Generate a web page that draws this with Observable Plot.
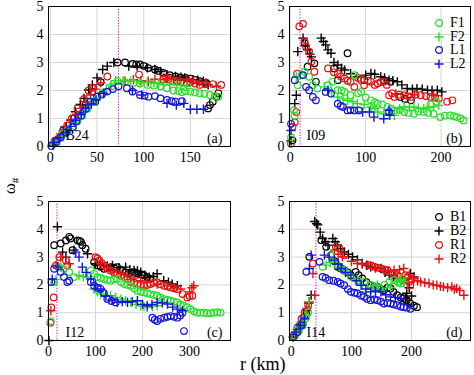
<!DOCTYPE html>
<html><head><meta charset="utf-8">
<script src="https://cdn.jsdelivr.net/npm/d3@7"></script>
<script src="https://cdn.jsdelivr.net/npm/@observablehq/plot@0.6"></script>
<style>
body{margin:0;background:#fff;}
#c{position:relative;width:474px;height:375px;font-family:"Liberation Serif",serif;color:#000;overflow:hidden;}
#c svg{position:absolute;}
.lab{position:absolute;font-size:14px;line-height:18px;white-space:nowrap;}
.leg{position:absolute;font-size:14px;line-height:14px;}
</style></head><body><div id="c"></div>
<script>
// ---- panel (a) B24 ----
const a_B1=[[5,0.2],[14,0.6],[25,1.0],[38,1.5],[45,1.96],[48,1.6],[54,2.3],[72,3.0],[80,3.0],[88,2.95],[92,2.93],[96,2.93],[100,2.88],[105,2.8],[112,2.75],[116,2.7],[121,2.63],[128,2.55],[134,2.5],[139,2.47],[145,2.45],[150,2.42],[155,2.38],[160,2.33],[167,2.27],[169,1.36],[171,1.48],[174,1.6],[178,1.78],[180,1.9]];
const a_B2=[[3,0.05],[10,0.33],[14,0.55],[17,0.69],[22,0.95],[27,1.24],[32,1.5],[36,1.72],[41,2.02],[45,2.2],[50,2.45],[56,2.75],[61,2.87],[68,3.0],[84,2.87],[93,2.87],[104,2.81],[112,2.75],[118,2.68],[125,2.57],[134,2.5],[140,2.48],[144,2.45],[153,2.39],[158,2.37],[164,2.33],[169,2.2]];
const a_R1=[[8,0.27],[13,0.5],[18,0.75],[23,1.0],[29,1.36],[36,1.7],[41,2.0],[46,2.1],[61,2.5],[95,2.57],[121,2.39],[124,2.45],[127,2.4],[132,2.33],[136,2.35],[140,2.3],[146,2.27],[150,2.3],[155,2.25],[160,2.2],[166,2.22],[174,2.23],[183,2.2]];
const a_R2=[[11,0.45],[16,0.7],[22,0.93],[28,1.15],[33,1.36],[38,1.6],[43,1.84],[48,2.05],[54,2.27],[80,2.33],[89,2.39],[97,2.35],[105,2.33],[112,2.4],[118,2.39],[125,2.42],[132,2.4],[139,2.38],[146,2.4],[153,2.35],[160,2.3],[167,2.27],[178,2.15]];
const a_F1=[[4,0.1],[13,0.45],[19,0.6],[24,0.69],[29,0.9],[34,1.1],[40,1.35],[47,1.6],[56,1.9],[66,2.15],[72,2.33],[80,2.3],[89,2.27],[96,2.25],[104,2.2],[111,2.18],[118,2.15],[125,2.08],[132,2.0],[137,1.98],[141,1.94],[145,1.98],[150,1.96],[155,1.93],[160,1.9],[165,1.88],[171,1.84],[176,1.8],[180,1.78]];
const a_F2=[[10,0.2],[15,0.42],[20,0.63],[26,0.85],[33,1.1],[38,1.3],[43,1.54],[48,1.72],[54,1.9],[60,2.05],[65,2.2],[70,2.35],[78,2.35],[86,2.33],[96,2.27],[104,2.3],[111,2.27],[116,2.25],[121,2.2],[128,2.22],[135,2.2],[140,2.18],[146,2.15]];
const a_L1=[[1,0.02],[6,0.15],[11,0.33],[17,0.5],[24,0.69],[28,0.9],[33,1.1],[38,1.35],[43,1.6],[50,1.78],[55,1.85],[61,1.96],[67,2.05],[73,2.15],[82,2.08],[88,1.96],[96,1.84],[101,1.82],[105,1.78],[112,1.8],[118,1.72],[125,1.66],[130,1.62],[134,1.6],[141,1.62]];
const a_L2=[[4,0.15],[10,0.3],[17,0.5],[22,0.72],[27,0.93],[33,1.15],[38,1.36],[44,1.52],[49,1.66],[57,1.9],[88,2.0],[98,1.84],[125,1.54],[135,1.48],[143,1.54],[150,1.33],[157,1.33],[164,1.33]];
// ---- panel (b) I09 ----
const b_B1=[[3,0.22],[19,3.69],[23,2.85],[32,2.97],[34,2.31],[58,2.79],[63,2.37],[76,3.33],[98,2.37],[124,2.37],[133,2.31],[146,1.77],[152,1.7],[160,1.65]];
const b_B2=[[1,0.2],[6,1.53],[8,1.83],[10,3.39],[17,3.87],[20,3.6],[23,3.45],[26,3.3],[28,3.2],[41,3.87],[44,3.75],[47,3.63],[50,3.45],[54,3.33],[58,3.0],[63,2.91],[68,2.8],[72,2.73],[80,2.6],[89,2.49],[100,2.55],[107,2.61],[112,2.58],[120,2.49],[125,2.45],[131,2.37],[136,2.35],[142,2.31],[148,2.2],[155,2.07],[162,2.05],[168,2.07],[175,2.05],[182,2.01],[188,2.0],[195,2.01],[201,1.95]];
const b_R1=[[1,0.1],[3,0.7],[6,0.87],[8,1.23],[9,2.6],[12,4.29],[17,4.38],[19,3.75],[21,3.57],[25,3.39],[28,3.03],[32,2.67],[50,2.79],[58,2.65],[63,2.61],[67,2.5],[72,2.43],[76,2.35],[80,2.31],[85,2.13],[90,2.45],[94,2.37],[98,2.19],[103,2.35],[107,2.31],[112,2.2],[116,2.25],[120,2.3],[124,2.31],[128,2.2],[131,1.83],[135,1.9],[138,1.77],[145,1.85],[151,1.83],[156,1.8],[160,1.77],[166,1.85],[173,1.83],[180,1.8],[186,1.77],[192,1.75],[197,1.71],[208,1.6],[215,1.65]];
const b_R2=[[140,1.88],[165,1.85],[190,1.82]];
const b_F1=[[1,0.33],[5,1.3],[6,1.1],[10,2.19],[15,2.55],[19,2.67],[25,2.49],[30,2.19],[36,2.07],[50,2.19],[56,2.31],[63,2.01],[68,2.0],[72,1.95],[80,1.83],[85,2.55],[90,1.9],[94,1.95],[100,1.75],[107,1.65],[112,1.58],[116,1.53],[122,1.5],[129,1.41],[134,1.35],[138,1.29],[145,1.3],[151,1.23],[157,1.2],[164,1.17],[170,1.25],[177,1.23],[183,1.2],[186,1.5],[190,1.17],[194,1.6],[199,1.05],[205,1.1],[212,1.11],[217,1.08],[221,1.05],[226,1.0],[230,0.93]];
const b_F2=[[8,2.49],[45,2.13],[55,1.95],[63,1.77],[70,1.7],[76,1.65],[83,1.6],[89,1.53],[98,1.5],[107,1.41],[112,1.35],[116,1.23],[124,1.17],[131,1.15],[138,1.11],[145,1.35],[151,1.41],[158,1.4],[164,1.41],[170,1.38],[177,1.35],[184,1.4],[190,1.41],[197,1.47]];
const b_L1=[[1,0.81],[6,2.37],[17,2.55],[21,2.13],[25,2.01],[30,1.77],[34,1.65],[47,1.95],[54,1.89],[63,1.53],[67,1.45],[70,1.41],[76,1.29],[80,1.3],[85,1.29],[91,1.29],[131,1.23]];
const b_L2=[[1,0.57],[50,2.01],[96,1.23],[105,1.23],[111,1.05],[124,0.99],[131,1.29],[132,1.11]];
// ---- panel (c) I12 ----
const c_B1=[[12,3.43],[26,3.49],[37,3.6],[44,3.73],[47,3.67],[51,3.25],[62,3.6],[66,3.58],[69,3.55],[72,3.43],[79,3.3],[97,2.82],[104,2.7],[111,2.65],[118,2.58],[125,2.6],[132,2.64],[139,2.62],[146,2.64],[152,2.55],[157,2.52],[164,2.45],[171,2.4],[177,2.45],[182,2.46],[187,2.42],[192,2.4],[198,2.38],[203,2.34],[210,2.28],[217,2.22]];
const c_B2=[[1,0],[19,4.09],[30,3.18],[37,3.0],[54,3.25],[83,3.12],[100,2.76],[111,2.7],[125,2.68],[136,2.7],[150,2.62],[164,2.64],[173,2.55],[182,2.52],[189,2.5],[196,2.46],[205,2.35],[214,2.28],[223,2.3],[231,2.4],[245,2.15],[255,2.1],[263,2.03],[274,1.97]];
const c_R1=[[4,0.64],[6,1.19],[11,1.55],[16,2.7],[23,3.0],[37,2.88],[40,2.7],[100,3.0],[104,2.95],[108,2.88],[113,2.78],[118,2.7],[125,2.6],[132,2.52],[139,2.45],[146,2.4],[154,2.35],[161,2.28],[168,2.2],[175,2.1],[182,2.08],[189,2.03],[196,2.0],[203,1.97],[210,2.0],[217,2.03],[224,2.08],[231,2.1],[238,2.02],[246,1.97],[253,1.95],[260,1.91],[267,1.88],[274,1.85],[285,1.67],[295,1.55],[300,1.6],[306,1.61]];
const c_R2=[[5,1.07],[16,2.7],[26,3.0],[44,2.76],[111,2.76],[125,2.6],[139,2.46],[154,2.4],[168,2.34],[182,2.25],[196,2.15],[210,2.1],[231,2.03],[253,1.97],[268,1.9],[281,1.85],[300,1.75],[305,1.9],[309,1.97]];
const c_F1=[[5,0.7],[12,2.1],[23,2.64],[33,2.58],[44,2.46],[54,2.28],[90,2.52],[97,2.4],[104,2.28],[111,2.25],[118,2.21],[125,2.18],[132,2.15],[139,2.2],[146,2.21],[154,2.1],[161,2.03],[168,2.0],[175,1.97],[182,1.88],[189,1.79],[196,1.75],[203,1.73],[210,1.7],[217,1.67],[224,1.64],[231,1.61],[238,1.55],[246,1.49],[253,1.46],[260,1.43],[267,1.4],[274,1.37],[281,1.3],[288,1.25],[295,1.2],[302,1.13],[309,1.05],[316,1.0],[323,1.0],[330,1.0],[337,0.98],[345,0.98],[352,1.0],[359,1.02],[366,1.0]];
const c_F2=[[16,2.2],[26,2.64],[65,2.34],[74,2.3],[83,2.28],[97,1.85],[104,1.75],[111,1.67],[122,1.63],[132,1.61],[143,1.55],[154,1.49],[164,1.43],[175,1.37],[186,1.3],[196,1.25],[203,1.22],[210,1.19],[221,1.22],[231,1.25]];
const c_L1=[[6,2.1],[12,2.58],[26,2.46],[33,2.28],[40,2.1],[44,2.15],[90,2.1],[97,1.97],[104,1.9],[111,1.85],[118,1.7],[125,1.49],[134,1.42],[143,1.37],[221,0.82],[226,0.75],[231,0.7],[238,0.78],[246,0.82],[253,0.85],[260,0.88],[267,0.85],[274,0.82],[280,0.9],[285,1.0],[288,0.34]];
const c_L2=[[8,2.21],[19,2.64],[58,3.18],[65,3.0],[72,2.64],[80,2.45],[90,2.21],[100,2.0],[111,1.85],[122,1.6],[135,1.45],[146,1.37],[157,1.4],[168,1.37],[178,1.4],[189,1.43],[200,1.3],[210,1.25],[220,1.3],[231,1.37],[242,1.35],[253,1.31],[264,1.2],[274,1.13],[285,1.07]];
// ---- panel (d) I14 ----
const d_B1=[[6,0.18],[12,0.35],[19,0.6],[25,0.95],[30,3.01],[50,3.61],[58,3.37],[66,3.07],[72,2.85],[77,2.65],[82,2.6],[88,2.53],[94,2.45],[99,2.35],[107,2.47],[112,2.35],[118,2.23],[125,2.1],[132,1.99],[138,1.95],[143,1.93],[149,1.85],[154,1.81],[160,1.9],[165,1.87],[170,1.75],[176,1.63],[182,1.55],[187,1.51],[192,1.45],[198,1.33],[204,1.25],[209,1.2]];
const d_B2=[[3,0.12],[10,0.4],[17,0.66],[21,0.85],[25,1.08],[29,1.35],[33,1.63],[39,4.28],[42,4.2],[44,4.16],[48,3.9],[52,3.67],[57,3.55],[61,3.43],[69,3.67],[73,3.55],[77,3.43],[82,3.3],[88,3.19],[95,3.1],[102,3.01],[110,2.9],[118,2.77],[125,2.7],[132,2.65],[140,2.62],[149,2.59],[156,2.45],[163,2.35],[170,2.3],[176,2.23],[182,2.15],[187,2.11],[190,1.5],[192,1.7],[194,1.3],[196,1.9],[198,2.41],[200,1.6],[204,2.29]];
const d_R1=[[4,0.18],[10,0.45],[17,0.78],[22,1.0],[28,1.27],[36,2.77],[74,3.37],[80,3.31],[88,3.07],[129,2.71],[133,2.7],[138,2.65],[143,2.62],[149,2.59],[155,2.55],[160,2.53],[168,2.41],[172,2.4],[176,2.35],[180,2.3],[184,2.2],[187,2.17],[190,2.35],[193,2.29],[196,2.11],[198,1.99],[200,2.2]];
const d_R2=[[8,0.3],[15,0.6],[22,0.9],[26,1.15],[30,1.39],[36,2.41],[39,1.63],[72,3.25],[78,3.1],[85,3.01],[100,2.85],[110,2.77],[118,2.75],[127,2.71],[140,2.6],[154,2.53],[162,2.5],[171,2.53],[180,2.55],[187,2.59],[196,2.35],[204,2.23],[210,2.15],[215,2.11],[222,2.08],[229,2.05],[236,2.0],[242,1.99],[248,1.95],[253,1.93],[260,1.9],[267,1.93],[271,1.85],[275,1.87],[280,1.8],[287,1.63]];
const d_F1=[[6,0.18],[12,0.35],[19,0.54],[24,0.8],[28,1.02],[52,2.65],[66,3.07],[77,2.71],[88,2.5],[99,2.29],[110,2.17],[121,2.11],[132,1.99],[140,1.93],[146,1.87],[155,2.0],[163,2.11],[171,2.17],[177,2.1],[182,2.05],[185,2.23]];
const d_F2=[[11,0.42],[18,0.65],[25,0.9],[29,1.4],[58,2.71],[65,2.8],[72,2.83],[80,2.65],[88,2.53],[99,2.35],[110,2.17],[118,2.0],[124,1.75],[132,1.85],[143,1.99],[150,1.8],[157,1.63],[165,1.9],[176,2.11],[182,2.2],[187,2.11]];
const d_L1=[[3,0.12],[10,0.3],[17,0.54],[25,2.47],[47,2.83],[52,2.29],[57,2.25],[63,2.17],[70,2.15],[77,2.11],[82,2.05],[88,1.99],[94,1.85],[99,1.75],[105,1.72],[110,1.69],[116,1.62],[121,1.57],[126,1.5],[132,1.45],[138,1.48],[143,1.45],[149,1.4],[154,1.33],[160,1.35],[165,1.33],[170,1.3],[176,1.27],[182,1.22],[187,1.2],[192,1.18],[198,1.14]];
const d_L2=[[8,0.3],[15,0.55],[22,0.78],[30,2.59],[33,3.07],[55,3.07],[63,3.0],[72,2.89],[78,2.75],[83,2.59],[90,2.45],[99,2.35],[108,2.15],[116,1.99],[124,1.85],[132,1.75],[140,1.78],[149,1.75],[157,1.65],[165,1.57],[173,1.55],[182,1.51]];

const seriesNames=["B1","B2","R1","R2","F1","F2","L1","L2"];
const legendB=["F1","F2","L1","L2"];
const legendD=["B1","B2","R1","R2"];
const stationLabels=["B24","I09","I12","I14"];
const panelLetters=["(a)","(b)","(c)","(d)"];
const xTicks=[[0,50,100,150],[0,100,200],[0,100,200,300],[0,100,200]];
const yTicks=[0,1,2,3,4,5];
const xDomains=[[-2,193],[-1,239],[0,387],[-3,298]];
const rmaxLines=[73,13,18,41];
const xLabel="r (km)";
const yLabelMain="ω", yLabelSub="#";

const colors={B:"#000000",R:"#ea1010",F:"#28e028",L:"#1414dc"};
const shape=s=>s[1]==="1"?"circle":"plus";

const panelData=[
 {B1:a_B1,B2:a_B2,R1:a_R1,R2:a_R2,F1:a_F1,F2:a_F2,L1:a_L1,L2:a_L2},
 {B1:b_B1,B2:b_B2,R1:b_R1,R2:b_R2,F1:b_F1,F2:b_F2,L1:b_L1,L2:b_L2},
 {B1:c_B1,B2:c_B2,R1:c_R1,R2:c_R2,F1:c_F1,F2:c_F2,L1:c_L1,L2:c_L2},
 {B1:d_B1,B2:d_B2,R1:d_R1,R2:d_R2,F1:d_F1,F2:d_F2,L1:d_L1,L2:d_L2}
];
const layout=[
 {left:0,top:0,w:237,h:185,ml:48,mr:7,mt:6,mb:39},
 {left:237,top:0,w:237,h:185,ml:52,mr:4,mt:6,mb:39},
 {left:0,top:185,w:237,h:190,ml:48,mr:7,mt:16,mb:35},
 {left:237,top:185,w:237,h:190,ml:52,mr:4,mt:16,mb:35}
];

function dotMark(data,name){
  const circ=shape(name)==="circle";
  return Plot.dot(data,{x:d=>d[0],y:d=>d[1],symbol:shape(name),r:circ?3.3:3.1,
    fill:"none",stroke:colors[name[0]],strokeWidth:circ?1.2:1.4});
}

const root=document.getElementById("c");
panelData.forEach((pd,i)=>{
  const L=layout[i];
  const marks=[
    Plot.gridX(xTicks[i],{stroke:"#d6d6d6",strokeOpacity:1}),
    Plot.gridY([1,2,3,4],{stroke:"#d6d6d6",strokeOpacity:1}),
    Plot.ruleX([rmaxLines[i]],{stroke:"#e010e0",strokeWidth:1.1,strokeDasharray:"1.2,1.6"}),
    ...seriesNames.map(s=>dotMark(pd[s],s)),
    Plot.frame({stroke:"#000",strokeWidth:1}),
    Plot.axisX(xTicks[i],{tickSize:0,tickPadding:6,label:null,fontSize:14}),
    Plot.axisY(yTicks,{tickSize:0,tickPadding:5,label:null,fontSize:14}),
    Plot.text([stationLabels[i]],{text:d=>d,frameAnchor:"bottom-left",textAnchor:"start",lineAnchor:"bottom",dx:17,dy:i<2?-7:-4,fontSize:14}),
    Plot.text([panelLetters[i]],{text:d=>d,frameAnchor:"bottom-right",textAnchor:"end",lineAnchor:"bottom",dx:-8,dy:-4,fontSize:14})
  ];
  const svg=Plot.plot({width:L.w,height:L.h,marginLeft:L.ml,marginRight:L.mr,marginTop:L.mt,marginBottom:L.mb,
    x:{domain:xDomains[i]},y:{domain:[0,5]},
    style:{fontFamily:"Liberation Serif",fontSize:"14px",color:"#000",background:"transparent",overflow:"visible"},
    marks});
  svg.style.left=L.left+"px";svg.style.top=L.top+"px";
  root.appendChild(svg);
});

// legends
function legend(names,x,y0,step){
  names.forEach((n,k)=>{
    const y=y0+k*step;
    const ic=document.createElementNS("http://www.w3.org/2000/svg","svg");
    ic.setAttribute("width",12);ic.setAttribute("height",12);
    ic.style.left=(x-6)+"px";ic.style.top=(y-6)+"px";
    const col=colors[n[0]];
    ic.innerHTML=shape(n)==="circle"
      ?`<circle cx="6" cy="6" r="3.4" fill="none" stroke="${col}" stroke-width="1.2"/>`
      :`<path d="M1.5,6H10.5M6,1.5V10.5" stroke="${col}" stroke-width="1.4"/>`;
    root.appendChild(ic);
    const t=document.createElement("div");t.className="leg";t.textContent=n;
    t.style.left=(x+11)+"px";t.style.top=(y-7)+"px";root.appendChild(t);
  });
}
legend(legendB,439,23,13.5);
legend(legendD,439,216.5,14);

// y axis title (rotated, in its own small svg)
const ys=document.createElementNS("http://www.w3.org/2000/svg","svg");
ys.setAttribute("width",34);ys.setAttribute("height",60);
ys.style.left="0px";ys.style.top="154px";ys.style.overflow="visible";
ys.innerHTML=`<text transform="translate(15,32) rotate(-90)" text-anchor="middle" font-family="Liberation Serif" font-size="17" fill="#000">${yLabelMain}<tspan font-size="11" dy="4">${yLabelSub}</tspan></text>`;
root.appendChild(ys);

const xl=document.createElement("div");
xl.className="lab";xl.style.fontSize="18px";xl.textContent=xLabel;
xl.style.left="240px";xl.style.top="355px";
root.appendChild(xl);
</script></body></html>
